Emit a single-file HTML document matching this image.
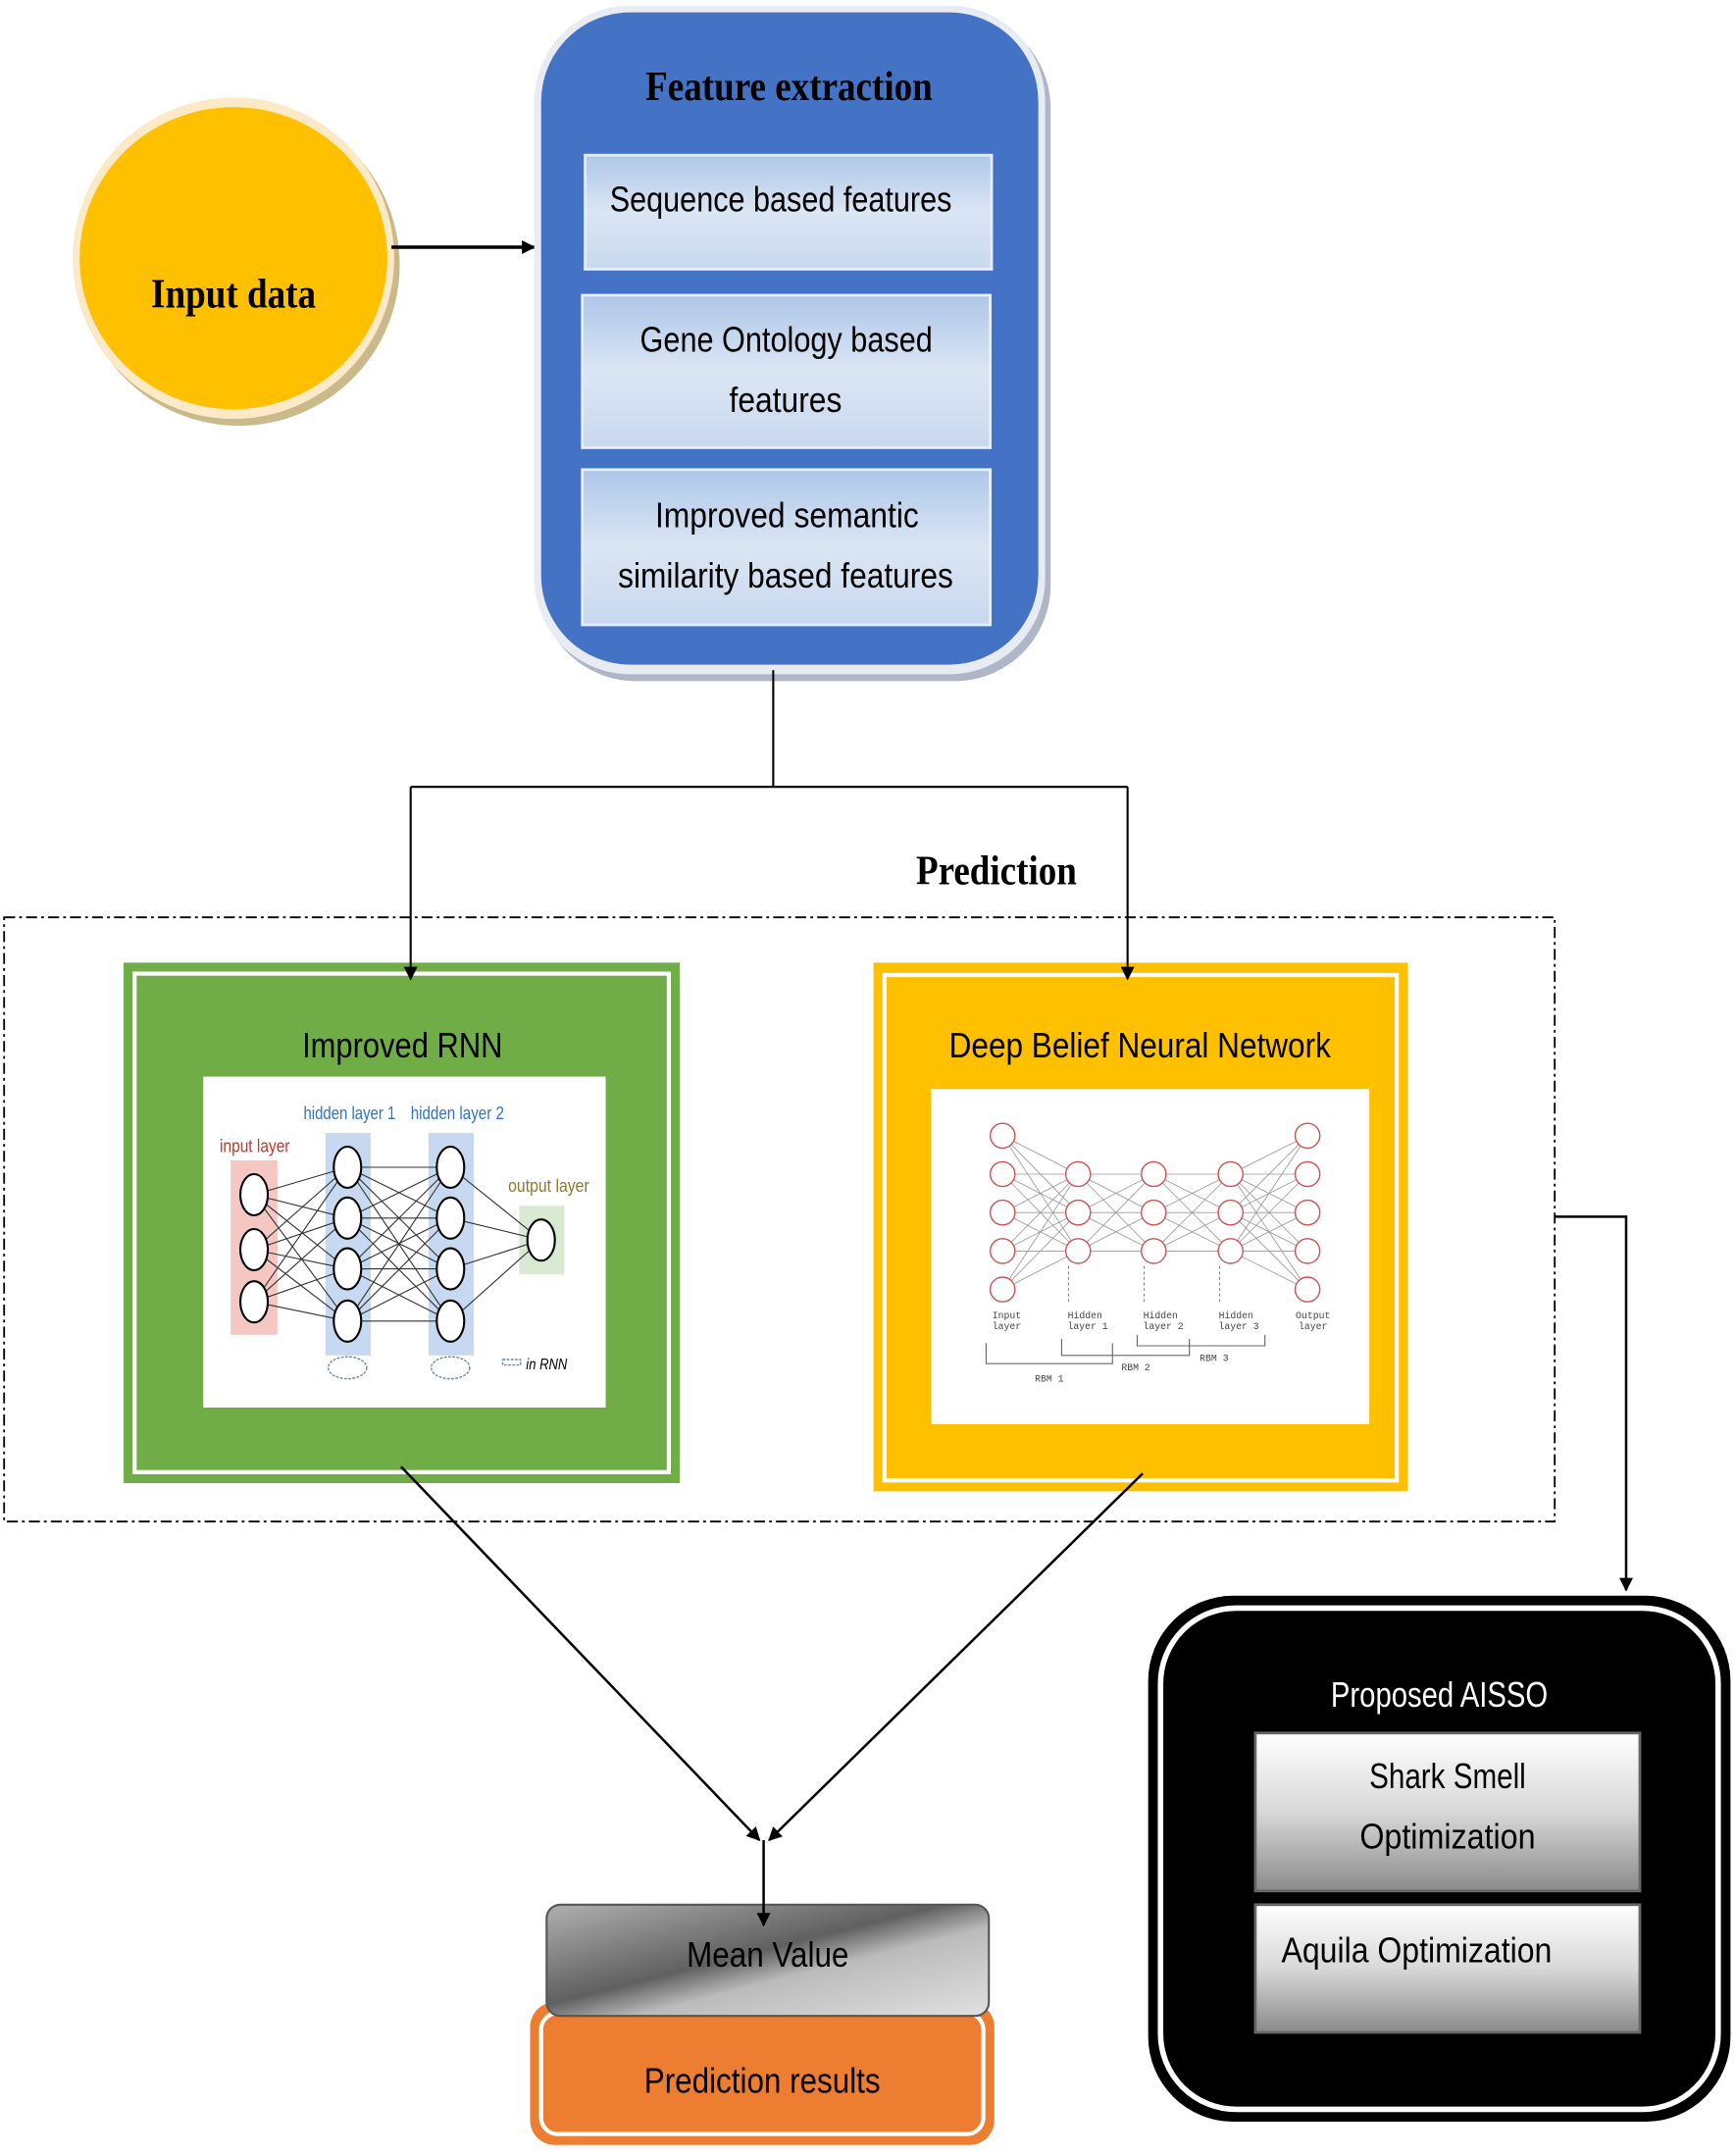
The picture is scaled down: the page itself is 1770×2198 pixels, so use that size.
<!DOCTYPE html>
<html><head><meta charset="utf-8"><style>
html,body{margin:0;padding:0;background:#fff}
svg{display:block}
.n{font-family:"Liberation Sans Narrow","Liberation Sans",sans-serif}
.s{font-family:"Liberation Serif",serif;font-weight:bold}
</style></head><body>
<svg width="1770" height="2198" viewBox="0 0 1264 1570" preserveAspectRatio="none" xmlns="http://www.w3.org/2000/svg">
<defs>
<marker id="ar" markerWidth="10" markerHeight="10" refX="9" refY="5" orient="auto" markerUnits="userSpaceOnUse"><path d="M0,0 L10,5 L0,10 z" fill="#000"/></marker>
<linearGradient id="bl" x1="0" y1="0" x2="0" y2="1"><stop offset="0" stop-color="#aec6e8"/><stop offset="0.5" stop-color="#dbe6f4"/><stop offset="1" stop-color="#c8d8ee"/></linearGradient>
<linearGradient id="gr" x1="0" y1="0" x2="0" y2="1"><stop offset="0" stop-color="#ffffff"/><stop offset="0.5" stop-color="#d8d8d8"/><stop offset="1" stop-color="#8a8a8a"/></linearGradient>
<linearGradient id="mv" x1="0" y1="0" x2="1" y2="1"><stop offset="0" stop-color="#b0b0b0"/><stop offset="0.45" stop-color="#606060"/><stop offset="0.6" stop-color="#bbb"/><stop offset="1" stop-color="#e0e0e0"/></linearGradient>
</defs>

<!-- Input data -->
<ellipse cx="174" cy="193" rx="117" ry="117" fill="#c9b98b"/>
<ellipse cx="170" cy="188" rx="117" ry="117" fill="#fbe9c8"/>
<ellipse cx="170" cy="188" rx="112" ry="110" fill="#ffc000"/>
<text x="110" y="224" textLength="120" lengthAdjust="spacingAndGlyphs" class="s" font-size="30">Input data</text>
<line x1="285" y1="180" x2="389" y2="180" stroke="#000" stroke-width="2.5" marker-end="url(#ar)"/>

<!-- Feature extraction -->
<rect x="393" y="9" width="372" height="487" rx="70" fill="#aeb6c8"/>
<rect x="389" y="4" width="372" height="487" rx="70" fill="#e8ecf2"/>
<rect x="394" y="9" width="362" height="475" rx="65" fill="#4472c4"/>
<text x="470" y="73" textLength="209" lengthAdjust="spacingAndGlyphs" class="s" font-size="30">Feature extraction</text>
<rect x="426" y="113" width="296" height="83" fill="url(#bl)" stroke="#e8eef8" stroke-width="2"/>
<text x="444" y="154" textLength="249" lengthAdjust="spacingAndGlyphs" class="n" font-size="26">Sequence based features</text>
<rect x="424" y="215" width="297" height="111" fill="url(#bl)" stroke="#e8eef8" stroke-width="2"/>
<text x="466" y="256" textLength="213" lengthAdjust="spacingAndGlyphs" class="n" font-size="26">Gene Ontology based</text>
<text x="531" y="300" textLength="82" lengthAdjust="spacingAndGlyphs" class="n" font-size="26">features</text>
<rect x="424" y="342" width="297" height="113" fill="url(#bl)" stroke="#e8eef8" stroke-width="2"/>
<text x="477" y="384" textLength="192" lengthAdjust="spacingAndGlyphs" class="n" font-size="26">Improved semantic</text>
<text x="450" y="428" textLength="244" lengthAdjust="spacingAndGlyphs" class="n" font-size="26">similarity based features</text>

<polyline points="563,488 563,573" fill="none" stroke="#000" stroke-width="1.5"/>
<polyline points="299,573 821,573" fill="none" stroke="#000" stroke-width="1.5"/>
<text x="667" y="644" textLength="117" lengthAdjust="spacingAndGlyphs" class="s" font-size="30">Prediction</text>

<rect x="3" y="668" width="1129" height="440" fill="none" stroke="#000" stroke-width="1.3" stroke-dasharray="8,3,2,3"/>

<!-- Improved RNN -->
<rect x="90" y="701" width="405" height="379" fill="#70ad47"/>
<rect x="98" y="709" width="389" height="363" fill="none" stroke="#fff" stroke-width="3"/>
<text x="220" y="770" textLength="146" lengthAdjust="spacingAndGlyphs" class="n" font-size="26">Improved RNN</text>
<rect x="148" y="784" width="293" height="241" fill="#fff"/>
<rect x="168" y="845" width="34" height="127" fill="#f4c7c3"/>
<rect x="237" y="825" width="33" height="162" fill="#c6d9f1"/>
<rect x="312" y="825" width="33" height="162" fill="#c6d9f1"/>
<rect x="378" y="878" width="33" height="50" fill="#d9ead3"/>
<g stroke="#333" stroke-width="0.8">
<path d="M185,870L253,850M185,870L253,887M185,870L253,924M185,870L253,962M185,910L253,850M185,910L253,887M185,910L253,924M185,910L253,962M185,948L253,850M185,948L253,887M185,948L253,924M185,948L253,962"/>
<path d="M253,850L328,850M253,850L328,887M253,850L328,924M253,850L328,962M253,887L328,850M253,887L328,887M253,887L328,924M253,887L328,962M253,924L328,850M253,924L328,887M253,924L328,924M253,924L328,962M253,962L328,850M253,962L328,887M253,962L328,924M253,962L328,962"/>
<path d="M328,850L394,903M328,887L394,903M328,924L394,903M328,962L394,903"/>
</g>
<g fill="#fff" stroke="#000" stroke-width="1.5">
<ellipse cx="185" cy="870" rx="10" ry="15"/><ellipse cx="185" cy="910" rx="10" ry="15"/><ellipse cx="185" cy="948" rx="10" ry="15"/>
<ellipse cx="253" cy="850" rx="10" ry="15"/><ellipse cx="253" cy="887" rx="10" ry="15"/><ellipse cx="253" cy="924" rx="10" ry="15"/><ellipse cx="253" cy="962" rx="10" ry="15"/>
<ellipse cx="328" cy="850" rx="10" ry="15"/><ellipse cx="328" cy="887" rx="10" ry="15"/><ellipse cx="328" cy="924" rx="10" ry="15"/><ellipse cx="328" cy="962" rx="10" ry="15"/>
<ellipse cx="394" cy="903" rx="10" ry="15"/>
</g>
<g fill="none" stroke="#6688aa" stroke-width="1" stroke-dasharray="2,1">
<ellipse cx="253" cy="996" rx="14" ry="8"/><ellipse cx="328" cy="996" rx="14" ry="8"/>
<rect x="366" y="990" width="13" height="4"/>
</g>
<text x="160" y="839" textLength="51" lengthAdjust="spacingAndGlyphs" class="n" font-size="13" fill="#c0392b">input layer</text>
<text x="221" y="815" textLength="67" lengthAdjust="spacingAndGlyphs" class="n" font-size="13" fill="#2e75c8">hidden layer 1</text>
<text x="299" y="815" textLength="68" lengthAdjust="spacingAndGlyphs" class="n" font-size="13" fill="#2e75c8">hidden layer 2</text>
<text x="370" y="868" textLength="59" lengthAdjust="spacingAndGlyphs" class="n" font-size="13" fill="#8a7a2a">output layer</text>
<text x="383" y="997" textLength="30" lengthAdjust="spacingAndGlyphs" class="n" font-size="11" font-style="italic">in RNN</text>

<!-- DBN -->
<rect x="636" y="701" width="389" height="385" fill="#ffc000"/>
<rect x="644" y="710" width="373" height="368" fill="none" stroke="#fff" stroke-width="3"/>
<text x="691" y="770" textLength="278" lengthAdjust="spacingAndGlyphs" class="n" font-size="26">Deep Belief Neural Network</text>
<rect x="678" y="793" width="319" height="244" fill="#fff"/>
<g stroke="#999" stroke-width="0.6">
<path d="M730,827L785,855M730,827L785,883M730,827L785,911M730,855L785,855M730,855L785,883M730,855L785,911M730,883L785,855M730,883L785,883M730,883L785,911M730,911L785,855M730,911L785,883M730,911L785,911M730,939L785,855M730,939L785,883M730,939L785,911"/>
<path d="M785,855L840,855M785,855L840,883M785,855L840,911M785,883L840,855M785,883L840,883M785,883L840,911M785,911L840,855M785,911L840,883M785,911L840,911"/>
<path d="M840,855L896,855M840,855L896,883M840,855L896,911M840,883L896,855M840,883L896,883M840,883L896,911M840,911L896,855M840,911L896,883M840,911L896,911"/>
<path d="M952,827L896,855M952,827L896,883M952,827L896,911M952,855L896,855M952,855L896,883M952,855L896,911M952,883L896,855M952,883L896,883M952,883L896,911M952,911L896,855M952,911L896,883M952,911L896,911M952,939L896,855M952,939L896,883M952,939L896,911"/>
</g>
<g fill="#fff" stroke="#d05050" stroke-width="1">
<circle cx="730" cy="827" r="9"/><circle cx="730" cy="855" r="9"/><circle cx="730" cy="883" r="9"/><circle cx="730" cy="911" r="9"/><circle cx="730" cy="939" r="9"/>
<circle cx="785" cy="855" r="9"/><circle cx="785" cy="883" r="9"/><circle cx="785" cy="911" r="9"/>
<circle cx="840" cy="855" r="9"/><circle cx="840" cy="883" r="9"/><circle cx="840" cy="911" r="9"/>
<circle cx="896" cy="855" r="9"/><circle cx="896" cy="883" r="9"/><circle cx="896" cy="911" r="9"/>
<circle cx="952" cy="827" r="9"/><circle cx="952" cy="855" r="9"/><circle cx="952" cy="883" r="9"/><circle cx="952" cy="911" r="9"/><circle cx="952" cy="939" r="9"/>
</g>
<g stroke="#666" stroke-width="0.6" stroke-dasharray="2,2"><path d="M778,922V950M833,922V950M888,922V950"/></g>
<g font-family="Liberation Mono,monospace" font-size="7" fill="#444" text-anchor="middle">
<text x="733" y="960">Input</text><text x="733" y="968">layer</text>
<text x="790" y="960">Hidden</text><text x="792" y="968">layer 1</text>
<text x="845" y="960">Hidden</text><text x="847" y="968">layer 2</text>
<text x="900" y="960">Hidden</text><text x="902" y="968">layer 3</text>
<text x="956" y="960">Output</text><text x="956" y="968">layer</text>
<text x="764" y="1006">RBM 1</text><text x="827" y="998">RBM 2</text><text x="884" y="991">RBM 3</text>
</g>
<g fill="none" stroke="#666" stroke-width="0.8">
<path d="M718,978V993H810V978"/><path d="M773,975V987H866V975"/><path d="M828,972V980H921V972"/>
</g>

<!-- arrows into boxes (drawn over) -->
<line x1="299" y1="573" x2="299" y2="713" stroke="#000" stroke-width="1.5" marker-end="url(#ar)"/>
<line x1="821" y1="573" x2="821" y2="713" stroke="#000" stroke-width="1.5" marker-end="url(#ar)"/>

<!-- to mean -->
<line x1="292" y1="1068" x2="553" y2="1340" stroke="#000" stroke-width="1.8" marker-end="url(#ar)"/>
<line x1="832" y1="1073" x2="560" y2="1340" stroke="#000" stroke-width="1.8" marker-end="url(#ar)"/>
<polyline points="1132,886 1184,886 1184,1158" fill="none" stroke="#000" stroke-width="1.8" marker-end="url(#ar)"/>

<!-- AISSO -->
<rect x="836" y="1162" width="424" height="383" rx="62" fill="#000"/>
<rect x="845" y="1171" width="406" height="365" rx="55" fill="none" stroke="#fff" stroke-width="4"/>
<text x="969" y="1243" textLength="158" lengthAdjust="spacingAndGlyphs" class="n" font-size="26" fill="#fff">Proposed AISSO</text>
<rect x="914" y="1262" width="280" height="115" fill="url(#gr)" stroke="#666" stroke-width="2"/>
<text x="997" y="1302" textLength="114" lengthAdjust="spacingAndGlyphs" class="n" font-size="26">Shark Smell</text>
<text x="990" y="1346" textLength="128" lengthAdjust="spacingAndGlyphs" class="n" font-size="26">Optimization</text>
<rect x="914" y="1387" width="280" height="93" fill="url(#gr)" stroke="#666" stroke-width="2"/>
<text x="933" y="1429" textLength="197" lengthAdjust="spacingAndGlyphs" class="n" font-size="26">Aquila Optimization</text>

<!-- Prediction results -->
<rect x="386" y="1458" width="338" height="104" rx="18" fill="#ed7d31"/>
<rect x="394" y="1466" width="322" height="88" rx="12" fill="none" stroke="#fff" stroke-width="3"/>
<text x="469" y="1524" textLength="172" lengthAdjust="spacingAndGlyphs" class="n" font-size="26">Prediction results</text>
<!-- Mean value -->
<rect x="398" y="1387" width="322" height="81" rx="10" fill="url(#mv)" stroke="#555" stroke-width="1.5"/>
<text x="500" y="1432" textLength="118" lengthAdjust="spacingAndGlyphs" class="n" font-size="26">Mean Value</text>
<line x1="556" y1="1340" x2="556" y2="1402" stroke="#000" stroke-width="1.8" marker-end="url(#ar)"/>
</svg>
</body></html>
